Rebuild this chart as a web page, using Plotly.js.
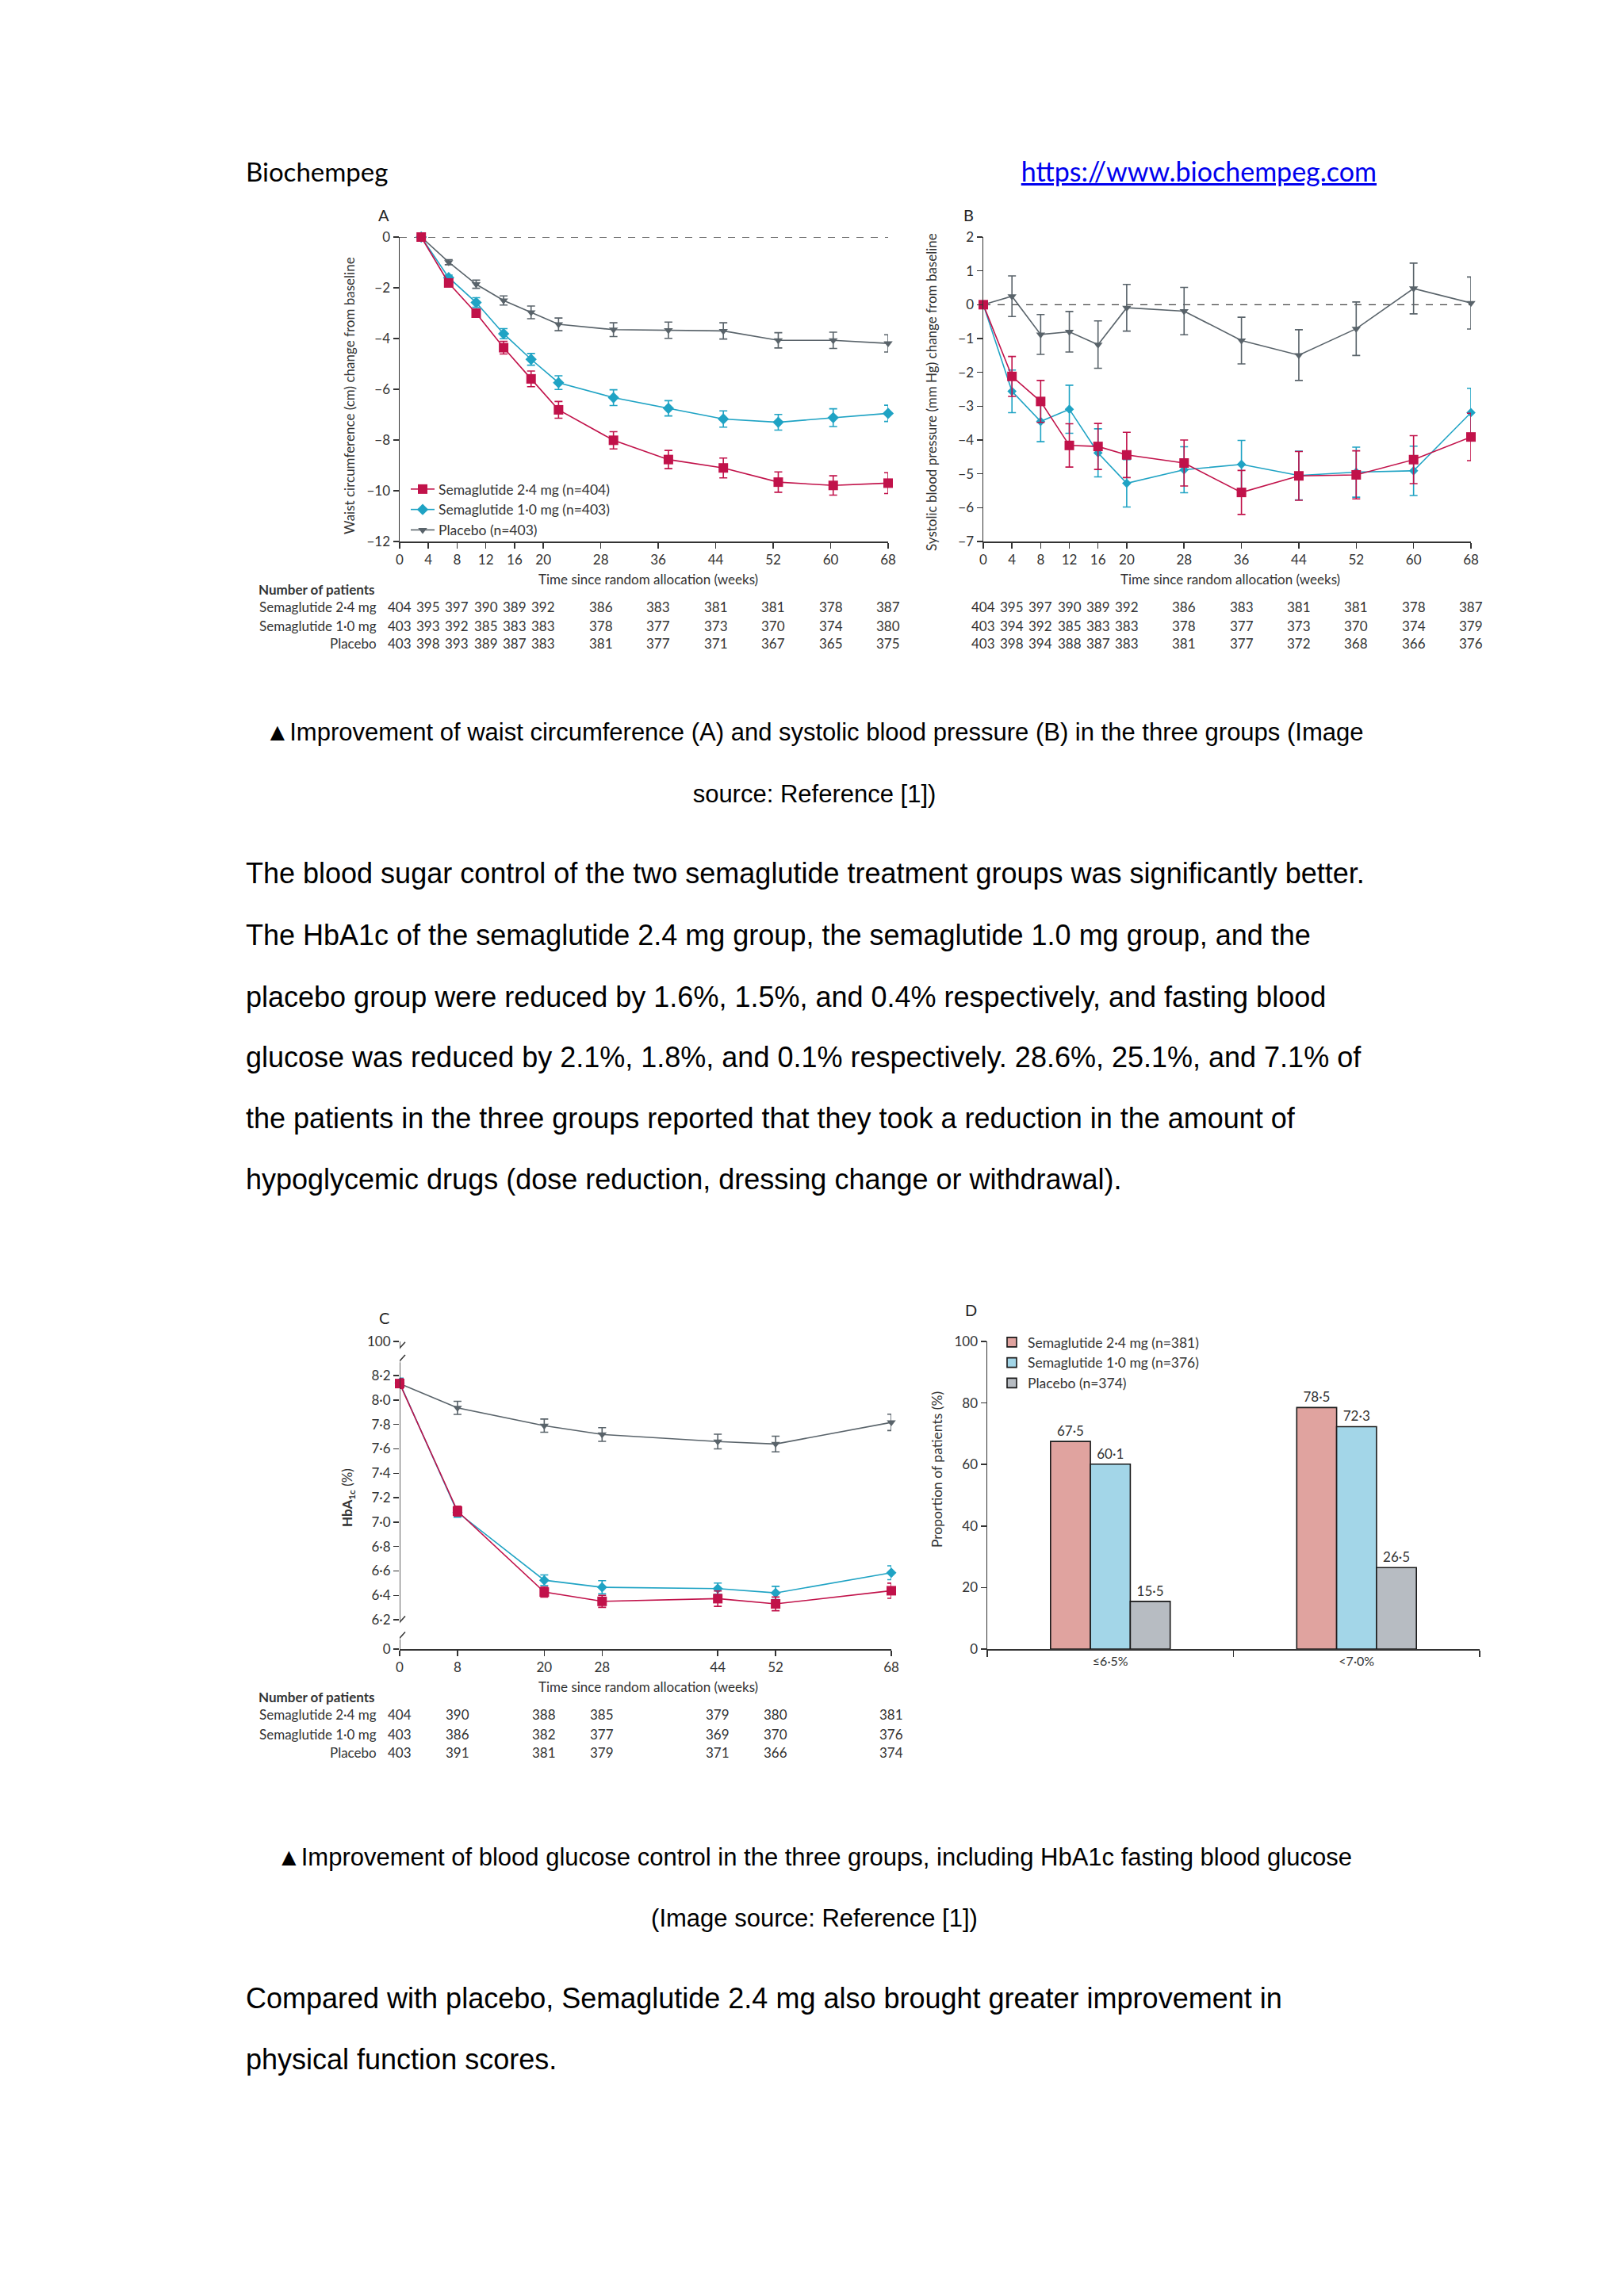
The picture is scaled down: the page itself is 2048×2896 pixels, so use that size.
<!DOCTYPE html>
<html>
<head>
<meta charset="utf-8">
<script src="https://cdn.plot.ly/plotly-3.0.1.min.js"></script>
<style>
  html, body { margin: 0; padding: 0; background: #ffffff; }
  #page { position: relative; width: 2048px; height: 2896px; background: #ffffff; overflow: hidden; }
  #chart { position: absolute; left: 0; top: 0; width: 2048px; height: 2896px; }
  .t { position: absolute; white-space: nowrap; line-height: 1; transform: translateY(-50%); color: #000; }
  .body { font-family: "Liberation Sans", Arial, sans-serif; font-size: 36px; left: 310px; }
  .cap { font-family: "Liberation Sans", Arial, sans-serif; font-size: 31px; left: 6px; width: 2042px; text-align: center; }
</style>
</head>
<body>
<div id="page">
  <div id="chart"></div>
  <div class="t" style="left:310px;top:216px;font-family:Lato,'Open Sans',sans-serif;font-size:33px;">Biochempeg</div>
  <div class="t" style="right:312px;top:216px;font-family:Lato,'Open Sans',sans-serif;font-size:34px;color:#0000ee;text-decoration:underline;">https://www.biochempeg.com</div>

  <div class="t cap" style="top:923px;">▲Improvement of waist circumference (A) and systolic blood pressure (B) in the three groups (Image</div>
  <div class="t cap" style="top:1001px;">source: Reference [1])</div>

  <div class="t body" style="top:1102px;">The blood sugar control of the two semaglutide treatment groups was significantly better.</div>
  <div class="t body" style="top:1180px;">The HbA1c of the semaglutide 2.4 mg group, the semaglutide 1.0 mg group, and the</div>
  <div class="t body" style="top:1258px;">placebo group were reduced by 1.6%, 1.5%, and 0.4% respectively, and fasting blood</div>
  <div class="t body" style="top:1334px;">glucose was reduced by 2.1%, 1.8%, and 0.1% respectively. 28.6%, 25.1%, and 7.1% of</div>
  <div class="t body" style="top:1411px;">the patients in the three groups reported that they took a reduction in the amount of</div>
  <div class="t body" style="top:1488px;">hypoglycemic drugs (dose reduction, dressing change or withdrawal).</div>

  <div class="t cap" style="top:2342px;">▲Improvement of blood glucose control in the three groups, including HbA1c fasting blood glucose</div>
  <div class="t cap" style="top:2419px;">(Image source: Reference [1])</div>

  <div class="t body" style="top:2521px;">Compared with placebo, Semaglutide 2.4 mg also brought greater improvement in</div>
  <div class="t body" style="top:2598px;">physical function scores.</div>
</div>
<script>
// ---------------- DATA ----------------
// Panel A: waist circumference change (cm)
const weeksAB = [0, 4, 8, 12, 16, 20, 28, 36, 44, 52, 60, 68];
const waistSema24 = [0, -1.81, -3.00, -4.36, -5.59, -6.81, -8.01, -8.77, -9.10, -9.66, -9.79, -9.70];
const waistSema24Err = [0, 0.12, 0.16, 0.25, 0.31, 0.33, 0.34, 0.36, 0.39, 0.40, 0.38, 0.41];
const waistSema10 = [0, -1.60, -2.58, -3.81, -4.82, -5.74, -6.33, -6.75, -7.17, -7.30, -7.12, -6.95];
const waistSema10Err = [0, 0.10, 0.19, 0.20, 0.23, 0.27, 0.31, 0.30, 0.32, 0.31, 0.35, 0.32];
const waistPlacebo = [0, -0.99, -1.86, -2.50, -2.97, -3.44, -3.65, -3.67, -3.70, -4.07, -4.07, -4.19];
const waistPlaceboErr = [0, 0.10, 0.16, 0.18, 0.25, 0.25, 0.27, 0.32, 0.32, 0.30, 0.32, 0.34];

// Panel B: systolic blood pressure change (mm Hg)
const sbpSema24 = [0, -2.12, -2.86, -4.16, -4.19, -4.44, -4.68, -5.55, -5.06, -5.03, -4.58, -3.91];
const sbpSema24Err = [0, 0.59, 0.62, 0.64, 0.68, 0.67, 0.68, 0.65, 0.72, 0.71, 0.71, 0.70];
const sbpSema10 = [0, -2.56, -3.45, -3.09, -4.38, -5.28, -4.88, -4.72, -5.05, -4.95, -4.91, -3.19];
const sbpSema10Err = [0, 0.63, 0.60, 0.71, 0.71, 0.70, 0.68, 0.71, 0.72, 0.74, 0.73, 0.72];
const sbpPlacebo = [0, 0.25, -0.88, -0.80, -1.18, -0.09, -0.19, -1.06, -1.49, -0.71, 0.48, 0.05];
const sbpPlaceboErr = [0, 0.60, 0.59, 0.60, 0.70, 0.69, 0.70, 0.69, 0.75, 0.79, 0.75, 0.77];

// Panel C: HbA1c (%)
const weeksC = [0, 8, 20, 28, 44, 52, 68];
const hba1cSema24 = [8.135, 7.09, 6.427, 6.351, 6.373, 6.33, 6.438];
const hba1cSema24Err = [0.04, 0.04, 0.041, 0.049, 0.063, 0.056, 0.062];
const hba1cSema10 = [8.14, 7.08, 6.524, 6.466, 6.455, 6.42, 6.585];
const hba1cSema10Err = [0.04, 0.04, 0.043, 0.054, 0.046, 0.054, 0.057];
const hba1cPlacebo = [8.135, 7.936, 7.79, 7.718, 7.66, 7.64, 7.817];
const hba1cPlaceboErr = [0.04, 0.054, 0.054, 0.056, 0.06, 0.064, 0.067];
const hba1cTicks = [6.2, 6.4, 6.6, 6.8, 7.0, 7.2, 7.4, 7.6, 7.8, 8.0, 8.2];

// Panel D: proportion of patients reaching HbA1c target (%)
const targets = ['≤6·5%', '<7·0%'];
const propSema24 = [67.5, 78.5];
const propSema10 = [60.1, 72.3];
const propPlacebo = [15.5, 26.5];

// Number of patients tables
const patientsA24 = [404, 395, 397, 390, 389, 392, 386, 383, 381, 381, 378, 387];
const patientsA10 = [403, 393, 392, 385, 383, 383, 378, 377, 373, 370, 374, 380];
const patientsAPl = [403, 398, 393, 389, 387, 383, 381, 377, 371, 367, 365, 375];
const patientsB24 = [404, 395, 397, 390, 389, 392, 386, 383, 381, 381, 378, 387];
const patientsB10 = [403, 394, 392, 385, 383, 383, 378, 377, 373, 370, 374, 379];
const patientsBPl = [403, 398, 394, 388, 387, 383, 381, 377, 372, 368, 366, 376];
const patientsC24 = [404, 390, 388, 385, 379, 380, 381];
const patientsC10 = [403, 386, 382, 377, 369, 370, 376];
const patientsCPl = [403, 391, 381, 379, 371, 366, 374];

const groupLabels = ['Semaglutide 2·4 mg', 'Semaglutide 1·0 mg', 'Placebo'];
const legendA = ['Semaglutide 2·4 mg (n=404)', 'Semaglutide 1·0 mg (n=403)', 'Placebo (n=403)'];
const legendD = ['Semaglutide 2·4 mg (n=381)', 'Semaglutide 1·0 mg (n=376)', 'Placebo (n=374)'];

// ---------------- STYLE ----------------
const W = 2048, H = 2896;
const px = v => v / W;
const py = v => 1 - v / H;
const FONT = 'Lato, "Open Sans", sans-serif';
const RED = '#c1124a', CYAN = '#1fa3c4', GREY = '#59636a';
const AX = '#333333';
const dot = v => String(v).replace('.', '·');

function lineTrace(x, y, err, color, symbol, size, xa, ya, name, showlegend, rank) {
  return {
    type: 'scatter', mode: 'lines+markers', x: x, y: y, xaxis: xa, yaxis: ya,
    name: name, showlegend: showlegend, legendrank: rank, legend: 'legend',
    line: { color: color, width: 1.6 },
    marker: { color: color, symbol: symbol, size: size },
    error_y: { type: 'data', array: err, visible: true, color: color, thickness: 1.6, width: 5 },
    cliponaxis: false, hoverinfo: 'skip'
  };
}

const traces = [
  // Panel A (data axis x5 reproduces the original's point placement)
  lineTrace(weeksAB, waistPlacebo, waistPlaceboErr, GREY, 'triangle-down', 10, 'x5', 'y', legendA[2], true, 3),
  lineTrace(weeksAB, waistSema10, waistSema10Err, CYAN, 'diamond', 11, 'x5', 'y', legendA[1], true, 2),
  lineTrace(weeksAB, waistSema24, waistSema24Err, RED, 'square', 12, 'x5', 'y', legendA[0], true, 1),
  // Panel B
  lineTrace(weeksAB, sbpPlacebo, sbpPlaceboErr, GREY, 'triangle-down', 10, 'x2', 'y2', legendA[2], false, 3),
  lineTrace(weeksAB, sbpSema10, sbpSema10Err, CYAN, 'diamond', 9, 'x2', 'y2', legendA[1], false, 2),
  lineTrace(weeksAB, sbpSema24, sbpSema24Err, RED, 'square', 12, 'x2', 'y2', legendA[0], false, 1),
  // Panel C
  lineTrace(weeksC, hba1cPlacebo, hba1cPlaceboErr, GREY, 'triangle-down', 10, 'x3', 'y3', legendA[2], false, 3),
  lineTrace(weeksC, hba1cSema10, hba1cSema10Err, CYAN, 'diamond', 10, 'x3', 'y3', legendA[1], false, 2),
  lineTrace(weeksC, hba1cSema24, hba1cSema24Err, RED, 'square', 12, 'x3', 'y3', legendA[0], false, 1)
];

const barColors = ['#e0a39f', '#a3d6e8', '#b7bcc2'];
[propSema24, propSema10, propPlacebo].forEach((vals, i) => {
  traces.push({
    type: 'bar', x: targets, y: vals, xaxis: 'x4', yaxis: 'y4', name: legendD[i],
    legend: 'legend2', showlegend: true,
    marker: { color: barColors[i], line: { color: '#1a1a1a', width: 1.6 } },
    text: vals.map(dot), textposition: 'outside', textfont: { family: FONT, size: 17, color: '#333' },
    cliponaxis: false, hoverinfo: 'skip'
  });
});

function baseAxis(extra) {
  return Object.assign({
    showgrid: false, zeroline: false, showline: true, linecolor: AX, linewidth: 1.5,
    ticks: 'outside', ticklen: 7, tickwidth: 1.5, tickcolor: AX,
    tickfont: { family: FONT, size: 17, color: '#333' }, fixedrange: true
  }, extra);
}

const domA = [px(504), px(1120)], domB = [px(1240), px(1855)];
const domC = [px(504), px(1124)], domD = [px(1245), px(1866)];
const domTop = [py(683), py(299)], domBot = [py(2080), py(1692)];

const layout = {
  width: W, height: H, margin: { l: 0, r: 0, t: 0, b: 0 },
  paper_bgcolor: 'rgba(0,0,0,0)', plot_bgcolor: 'rgba(0,0,0,0)',
  font: { family: FONT, size: 17, color: '#333' },
  barmode: 'group', bargap: 0.514, bargroupgap: 0,
  xaxis: baseAxis({ domain: domA, anchor: 'y', range: [0, 68], tickvals: weeksAB }),
  xaxis5: baseAxis({ overlaying: 'x', anchor: 'y', range: [-3.14, 68], visible: false }),
  yaxis: baseAxis({ domain: domTop, anchor: 'x', range: [-12, 0], dtick: 2 }),
  xaxis2: baseAxis({ domain: domB, anchor: 'y2', range: [0, 68], tickvals: weeksAB }),
  yaxis2: baseAxis({ domain: domTop, anchor: 'x2', range: [-7, 2], dtick: 1 }),
  xaxis3: baseAxis({ domain: domC, anchor: 'y3', range: [0, 68], tickvals: weeksC }),
  yaxis3: baseAxis({ domain: domBot, anchor: 'x3', range: [5.96, 8.48], showline: false,
    tickvals: [5.96].concat(hba1cTicks, [8.48]),
    ticktext: ['0'].concat(hba1cTicks.map(v => v.toFixed(1).replace('.', '·')), ['100']) }),
  xaxis4: baseAxis({ domain: domD, anchor: 'y4', type: 'category', tickson: 'boundaries', ticklen: 8,
    tickfont: { family: FONT, size: 16, color: '#333' } }),
  yaxis4: baseAxis({ domain: domBot, anchor: 'x4', range: [0, 100], dtick: 20 }),
  legend: {
    x: px(513), y: py(599), xanchor: 'left', yanchor: 'top', bgcolor: 'rgba(0,0,0,0)',
    font: { family: FONT, size: 17.5, color: '#333' }, itemwidth: 30, tracegroupgap: 0, traceorder: 'normal'
  },
  legend2: {
    x: px(1256), y: py(1675), xanchor: 'left', yanchor: 'top', bgcolor: 'rgba(0,0,0,0)',
    font: { family: FONT, size: 17.5, color: '#333' }, itemwidth: 30, tracegroupgap: 0, traceorder: 'normal'
  },
  shapes: [],
  annotations: []
};

// dashed baselines
layout.shapes.push({ type: 'line', xref: 'x', yref: 'y', x0: 0, x1: 68, y0: 0, y1: 0,
  line: { color: '#444', width: 1.3, dash: 'dash' }, layer: 'below' });
layout.shapes.push({ type: 'line', xref: 'x2', yref: 'y2', x0: 0, x1: 68, y0: 0, y1: 0,
  line: { color: '#444', width: 1.3, dash: 'dash' }, layer: 'below' });

// broken y axis for panel C
[[8.48, 8.43], [8.31, 6.19], [6.04, 5.96]].forEach(s => {
  layout.shapes.push({ type: 'line', xref: 'x3', yref: 'y3', x0: 0, x1: 0, y0: s[0], y1: s[1],
    line: { color: AX, width: 1.5 } });
});
[8.425, 8.32, 6.18, 6.05].forEach(c => {
  layout.shapes.push({ type: 'line', xref: 'x3', yref: 'y3', xsizemode: 'pixel', xanchor: 0,
    x0: -7, x1: 7, y0: c - 0.05, y1: c + 0.05, line: { color: AX, width: 1.5 } });
});

const A = layout.annotations;
function note(text, x, y, opts) {
  A.push(Object.assign({ text: text, x: px(x), y: py(y), xref: 'paper', yref: 'paper',
    showarrow: false, xanchor: 'center', yanchor: 'middle', font: { family: FONT, size: 17, color: '#333' } }, opts || {}));
}
// panel letters
note('A', 484, 271, { font: { family: FONT, size: 20, color: '#222' } });
note('B', 1221, 271, { font: { family: FONT, size: 20, color: '#222' } });
note('C', 484, 1662, { font: { family: FONT, size: 20, color: '#222' } });
note('D', 1224, 1652, { font: { family: FONT, size: 20, color: '#222' } });
// axis titles
note('Time since random allocation (weeks)', 817, 731);
note('Time since random allocation (weeks)', 1551, 731);
note('Time since random allocation (weeks)', 817, 2127);
note('Waist circumference (cm) change from baseline', 440, 499, { textangle: -90, font: { family: FONT, size: 17, color: '#333' } });
note('Systolic blood pressure (mm Hg) change from baseline', 1175, 495, { textangle: -90, font: { family: FONT, size: 17, color: '#333' } });
note('<b>HbA<sub>1c</sub></b> (%)', 439, 1889, { textangle: -90, font: { family: FONT, size: 17, color: '#333' } });
note('Proportion of patients (%)', 1181, 1854, { textangle: -90, font: { family: FONT, size: 17.5, color: '#333' } });

// number-at-risk tables
function table(xref, weeks, rows, ys, headerY, withLabels) {
  if (withLabels) {
    note('<b>Number of patients</b>', 324, headerY, { xanchor: 'left' });
    groupLabels.forEach((g, r) => note(g, 477, ys[r], { xanchor: 'right' }));
  }
  rows.forEach((row, r) => row.forEach((v, i) => {
    A.push({ text: String(v), x: weeks[i], y: py(ys[r]), xref: xref, yref: 'paper', showarrow: false,
      xanchor: 'center', yanchor: 'middle', font: { family: FONT, size: 17, color: '#333' } });
  }));
}
table('x', weeksAB, [patientsA24, patientsA10, patientsAPl], [765, 789, 812], 743, true);
table('x2', weeksAB, [patientsB24, patientsB10, patientsBPl], [765, 789, 812], 743, false);
table('x3', weeksC, [patientsC24, patientsC10, patientsCPl], [2162, 2187, 2210], 2140, true);

Plotly.newPlot('chart', traces, layout, { staticPlot: true, displayModeBar: false });
</script>
</body>
</html>
